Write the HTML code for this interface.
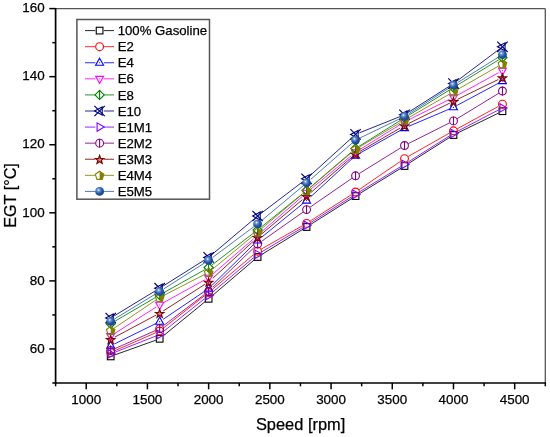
<!DOCTYPE html><html><head><meta charset="utf-8"><style>html,body{margin:0;padding:0;background:#fff;}svg{display:block;filter:blur(0.3px);}text{font-family:"Liberation Sans",Arial,sans-serif;fill:#000;stroke:#000;stroke-width:0.25px;}</style></head><body>
<svg width="550" height="437" viewBox="0 0 550 437">
<defs><radialGradient id="sph" cx="0.38" cy="0.35" r="0.7"><stop offset="0" stop-color="#f4f8ff"/><stop offset="0.22" stop-color="#6f97d0"/><stop offset="0.55" stop-color="#2858a8"/><stop offset="1" stop-color="#173c80"/></radialGradient></defs>
<rect width="550" height="437" fill="#fff"/>
<polyline points="110.69,356.4 159.66,338.8 208.63,298.8 257.6,257 306.57,227 355.54,196.1 404.51,166 453.48,135 502.45,111.2" fill="none" stroke="#000000" stroke-width="0.85"/>
<polyline points="110.69,352.5 159.66,331 208.63,292.5 257.6,251.2 306.57,223.4 355.54,192 404.51,158.6 453.48,130.8 502.45,104.2" fill="none" stroke="#FF0000" stroke-width="0.85"/>
<polyline points="110.69,345.8 159.66,321.7 208.63,288.6 257.6,240.5 306.57,200.6 355.54,155.6 404.51,128.1 453.48,107.3 502.45,81.1" fill="none" stroke="#0000FF" stroke-width="0.85"/>
<polyline points="110.69,336 159.66,304.8 208.63,277.7 257.6,235.3 306.57,192.7 355.54,152.2 404.51,121.9 453.48,97.4 502.45,70.6" fill="none" stroke="#FF00FF" stroke-width="0.85"/>
<polyline points="110.69,323.7 159.66,295 208.63,267.5 257.6,230 306.57,190.5 355.54,148.5 404.51,117.9 453.48,87.5 502.45,57.5" fill="none" stroke="#008000" stroke-width="0.85"/>
<polyline points="110.69,318 159.66,288.2 208.63,257.4 257.6,216 306.57,178.8 355.54,134.4 404.51,114.8 453.48,83.6 502.45,46.8" fill="none" stroke="#000080" stroke-width="0.85"/>
<polyline points="110.69,353.9 159.66,334.5 208.63,295.5 257.6,254.3 306.57,225.2 355.54,194.3 404.51,164.3 453.48,133.4 502.45,107.9" fill="none" stroke="#8000FF" stroke-width="0.85"/>
<polyline points="110.69,350.5 159.66,328.6 208.63,291.3 257.6,244.1 306.57,209.6 355.54,175.8 404.51,145.5 453.48,120.9 502.45,91" fill="none" stroke="#800080" stroke-width="0.85"/>
<polyline points="110.69,339.3 159.66,313.2 208.63,282 257.6,237.4 306.57,196.2 355.54,154 404.51,125.5 453.48,101.3 502.45,77.5" fill="none" stroke="#800000" stroke-width="0.85"/>
<polyline points="110.69,330.5 159.66,297.5 208.63,272.4 257.6,232.1 306.57,190.6 355.54,149.3 404.51,120.1 453.48,91.8 502.45,63.8" fill="none" stroke="#808000" stroke-width="0.85"/>
<polyline points="110.69,321.3 159.66,291.5 208.63,260.4 257.6,223.9 306.57,183 355.54,140.1 404.51,116.5 453.48,85.2 502.45,54.6" fill="none" stroke="#2F63AE" stroke-width="0.85"/>
<circle cx="110.69" cy="356.4" r="4.3" fill="#fff"/>
<circle cx="159.66" cy="338.8" r="4.3" fill="#fff"/>
<circle cx="208.63" cy="298.8" r="4.3" fill="#fff"/>
<circle cx="257.6" cy="257" r="4.3" fill="#fff"/>
<circle cx="306.57" cy="227" r="4.3" fill="#fff"/>
<circle cx="355.54" cy="196.1" r="4.3" fill="#fff"/>
<circle cx="404.51" cy="166" r="4.3" fill="#fff"/>
<circle cx="453.48" cy="135" r="4.3" fill="#fff"/>
<circle cx="502.45" cy="111.2" r="4.3" fill="#fff"/>
<circle cx="110.69" cy="352.5" r="4.3" fill="#fff"/>
<circle cx="159.66" cy="331" r="4.3" fill="#fff"/>
<circle cx="208.63" cy="292.5" r="4.3" fill="#fff"/>
<circle cx="257.6" cy="251.2" r="4.3" fill="#fff"/>
<circle cx="306.57" cy="223.4" r="4.3" fill="#fff"/>
<circle cx="355.54" cy="192" r="4.3" fill="#fff"/>
<circle cx="404.51" cy="158.6" r="4.3" fill="#fff"/>
<circle cx="453.48" cy="130.8" r="4.3" fill="#fff"/>
<circle cx="502.45" cy="104.2" r="4.3" fill="#fff"/>
<circle cx="110.69" cy="345.8" r="4.3" fill="#fff"/>
<circle cx="159.66" cy="321.7" r="4.3" fill="#fff"/>
<circle cx="208.63" cy="288.6" r="4.3" fill="#fff"/>
<circle cx="257.6" cy="240.5" r="4.3" fill="#fff"/>
<circle cx="306.57" cy="200.6" r="4.3" fill="#fff"/>
<circle cx="355.54" cy="155.6" r="4.3" fill="#fff"/>
<circle cx="404.51" cy="128.1" r="4.3" fill="#fff"/>
<circle cx="453.48" cy="107.3" r="4.3" fill="#fff"/>
<circle cx="502.45" cy="81.1" r="4.3" fill="#fff"/>
<circle cx="110.69" cy="336" r="4.3" fill="#fff"/>
<circle cx="159.66" cy="304.8" r="4.3" fill="#fff"/>
<circle cx="208.63" cy="277.7" r="4.3" fill="#fff"/>
<circle cx="257.6" cy="235.3" r="4.3" fill="#fff"/>
<circle cx="306.57" cy="192.7" r="4.3" fill="#fff"/>
<circle cx="355.54" cy="152.2" r="4.3" fill="#fff"/>
<circle cx="404.51" cy="121.9" r="4.3" fill="#fff"/>
<circle cx="453.48" cy="97.4" r="4.3" fill="#fff"/>
<circle cx="502.45" cy="70.6" r="4.3" fill="#fff"/>
<circle cx="110.69" cy="323.7" r="4.3" fill="#fff"/>
<circle cx="159.66" cy="295" r="4.3" fill="#fff"/>
<circle cx="208.63" cy="267.5" r="4.3" fill="#fff"/>
<circle cx="257.6" cy="230" r="4.3" fill="#fff"/>
<circle cx="306.57" cy="190.5" r="4.3" fill="#fff"/>
<circle cx="355.54" cy="148.5" r="4.3" fill="#fff"/>
<circle cx="404.51" cy="117.9" r="4.3" fill="#fff"/>
<circle cx="453.48" cy="87.5" r="4.3" fill="#fff"/>
<circle cx="502.45" cy="57.5" r="4.3" fill="#fff"/>
<circle cx="110.69" cy="318" r="4.3" fill="#fff"/>
<circle cx="159.66" cy="288.2" r="4.3" fill="#fff"/>
<circle cx="208.63" cy="257.4" r="4.3" fill="#fff"/>
<circle cx="257.6" cy="216" r="4.3" fill="#fff"/>
<circle cx="306.57" cy="178.8" r="4.3" fill="#fff"/>
<circle cx="355.54" cy="134.4" r="4.3" fill="#fff"/>
<circle cx="404.51" cy="114.8" r="4.3" fill="#fff"/>
<circle cx="453.48" cy="83.6" r="4.3" fill="#fff"/>
<circle cx="502.45" cy="46.8" r="4.3" fill="#fff"/>
<circle cx="110.69" cy="353.9" r="4.3" fill="#fff"/>
<circle cx="159.66" cy="334.5" r="4.3" fill="#fff"/>
<circle cx="208.63" cy="295.5" r="4.3" fill="#fff"/>
<circle cx="257.6" cy="254.3" r="4.3" fill="#fff"/>
<circle cx="306.57" cy="225.2" r="4.3" fill="#fff"/>
<circle cx="355.54" cy="194.3" r="4.3" fill="#fff"/>
<circle cx="404.51" cy="164.3" r="4.3" fill="#fff"/>
<circle cx="453.48" cy="133.4" r="4.3" fill="#fff"/>
<circle cx="502.45" cy="107.9" r="4.3" fill="#fff"/>
<circle cx="110.69" cy="350.5" r="4.3" fill="#fff"/>
<circle cx="159.66" cy="328.6" r="4.3" fill="#fff"/>
<circle cx="208.63" cy="291.3" r="4.3" fill="#fff"/>
<circle cx="257.6" cy="244.1" r="4.3" fill="#fff"/>
<circle cx="306.57" cy="209.6" r="4.3" fill="#fff"/>
<circle cx="355.54" cy="175.8" r="4.3" fill="#fff"/>
<circle cx="404.51" cy="145.5" r="4.3" fill="#fff"/>
<circle cx="453.48" cy="120.9" r="4.3" fill="#fff"/>
<circle cx="502.45" cy="91" r="4.3" fill="#fff"/>
<circle cx="110.69" cy="339.3" r="4.3" fill="#fff"/>
<circle cx="159.66" cy="313.2" r="4.3" fill="#fff"/>
<circle cx="208.63" cy="282" r="4.3" fill="#fff"/>
<circle cx="257.6" cy="237.4" r="4.3" fill="#fff"/>
<circle cx="306.57" cy="196.2" r="4.3" fill="#fff"/>
<circle cx="355.54" cy="154" r="4.3" fill="#fff"/>
<circle cx="404.51" cy="125.5" r="4.3" fill="#fff"/>
<circle cx="453.48" cy="101.3" r="4.3" fill="#fff"/>
<circle cx="502.45" cy="77.5" r="4.3" fill="#fff"/>
<circle cx="110.69" cy="330.5" r="4.3" fill="#fff"/>
<circle cx="159.66" cy="297.5" r="4.3" fill="#fff"/>
<circle cx="208.63" cy="272.4" r="4.3" fill="#fff"/>
<circle cx="257.6" cy="232.1" r="4.3" fill="#fff"/>
<circle cx="306.57" cy="190.6" r="4.3" fill="#fff"/>
<circle cx="355.54" cy="149.3" r="4.3" fill="#fff"/>
<circle cx="404.51" cy="120.1" r="4.3" fill="#fff"/>
<circle cx="453.48" cy="91.8" r="4.3" fill="#fff"/>
<circle cx="502.45" cy="63.8" r="4.3" fill="#fff"/>
<circle cx="110.69" cy="321.3" r="4.3" fill="#fff"/>
<circle cx="159.66" cy="291.5" r="4.3" fill="#fff"/>
<circle cx="208.63" cy="260.4" r="4.3" fill="#fff"/>
<circle cx="257.6" cy="223.9" r="4.3" fill="#fff"/>
<circle cx="306.57" cy="183" r="4.3" fill="#fff"/>
<circle cx="355.54" cy="140.1" r="4.3" fill="#fff"/>
<circle cx="404.51" cy="116.5" r="4.3" fill="#fff"/>
<circle cx="453.48" cy="85.2" r="4.3" fill="#fff"/>
<circle cx="502.45" cy="54.6" r="4.3" fill="#fff"/>
<rect x="107.34" y="353.05" width="6.7" height="6.7" fill="none" stroke="#000000" stroke-width="1.1"/>
<rect x="156.31" y="335.45" width="6.7" height="6.7" fill="none" stroke="#000000" stroke-width="1.1"/>
<rect x="205.28" y="295.45" width="6.7" height="6.7" fill="none" stroke="#000000" stroke-width="1.1"/>
<rect x="254.25" y="253.65" width="6.7" height="6.7" fill="none" stroke="#000000" stroke-width="1.1"/>
<rect x="303.22" y="223.65" width="6.7" height="6.7" fill="none" stroke="#000000" stroke-width="1.1"/>
<rect x="352.19" y="192.75" width="6.7" height="6.7" fill="none" stroke="#000000" stroke-width="1.1"/>
<rect x="401.16" y="162.65" width="6.7" height="6.7" fill="none" stroke="#000000" stroke-width="1.1"/>
<rect x="450.13" y="131.65" width="6.7" height="6.7" fill="none" stroke="#000000" stroke-width="1.1"/>
<rect x="499.1" y="107.85" width="6.7" height="6.7" fill="none" stroke="#000000" stroke-width="1.1"/>
<circle cx="110.69" cy="352.5" r="3.9" fill="none" stroke="#FF0000" stroke-width="1.1"/>
<circle cx="159.66" cy="331" r="3.9" fill="none" stroke="#FF0000" stroke-width="1.1"/>
<circle cx="208.63" cy="292.5" r="3.9" fill="none" stroke="#FF0000" stroke-width="1.1"/>
<circle cx="257.6" cy="251.2" r="3.9" fill="none" stroke="#FF0000" stroke-width="1.1"/>
<circle cx="306.57" cy="223.4" r="3.9" fill="none" stroke="#FF0000" stroke-width="1.1"/>
<circle cx="355.54" cy="192" r="3.9" fill="none" stroke="#FF0000" stroke-width="1.1"/>
<circle cx="404.51" cy="158.6" r="3.9" fill="none" stroke="#FF0000" stroke-width="1.1"/>
<circle cx="453.48" cy="130.8" r="3.9" fill="none" stroke="#FF0000" stroke-width="1.1"/>
<circle cx="502.45" cy="104.2" r="3.9" fill="none" stroke="#FF0000" stroke-width="1.1"/>
<polygon points="110.69,341.2 114.69,348.3 106.69,348.3" fill="none" stroke="#0000FF" stroke-width="1.1"/><circle cx="110.69" cy="345.8" r="0.6" fill="#0000FF"/>
<polygon points="159.66,317.1 163.66,324.2 155.66,324.2" fill="none" stroke="#0000FF" stroke-width="1.1"/><circle cx="159.66" cy="321.7" r="0.6" fill="#0000FF"/>
<polygon points="208.63,284 212.63,291.1 204.63,291.1" fill="none" stroke="#0000FF" stroke-width="1.1"/><circle cx="208.63" cy="288.6" r="0.6" fill="#0000FF"/>
<polygon points="257.6,235.9 261.6,243 253.6,243" fill="none" stroke="#0000FF" stroke-width="1.1"/><circle cx="257.6" cy="240.5" r="0.6" fill="#0000FF"/>
<polygon points="306.57,196 310.57,203.1 302.57,203.1" fill="none" stroke="#0000FF" stroke-width="1.1"/><circle cx="306.57" cy="200.6" r="0.6" fill="#0000FF"/>
<polygon points="355.54,151 359.54,158.1 351.54,158.1" fill="none" stroke="#0000FF" stroke-width="1.1"/><circle cx="355.54" cy="155.6" r="0.6" fill="#0000FF"/>
<polygon points="404.51,123.5 408.51,130.6 400.51,130.6" fill="none" stroke="#0000FF" stroke-width="1.1"/><circle cx="404.51" cy="128.1" r="0.6" fill="#0000FF"/>
<polygon points="453.48,102.7 457.48,109.8 449.48,109.8" fill="none" stroke="#0000FF" stroke-width="1.1"/><circle cx="453.48" cy="107.3" r="0.6" fill="#0000FF"/>
<polygon points="502.45,76.5 506.45,83.6 498.45,83.6" fill="none" stroke="#0000FF" stroke-width="1.1"/><circle cx="502.45" cy="81.1" r="0.6" fill="#0000FF"/>
<polygon points="110.69,340.6 114.69,333.5 106.69,333.5" fill="none" stroke="#FF00FF" stroke-width="1.1"/><circle cx="110.69" cy="336" r="0.6" fill="#FF00FF"/>
<polygon points="159.66,309.4 163.66,302.3 155.66,302.3" fill="none" stroke="#FF00FF" stroke-width="1.1"/><circle cx="159.66" cy="304.8" r="0.6" fill="#FF00FF"/>
<polygon points="208.63,282.3 212.63,275.2 204.63,275.2" fill="none" stroke="#FF00FF" stroke-width="1.1"/><circle cx="208.63" cy="277.7" r="0.6" fill="#FF00FF"/>
<polygon points="257.6,239.9 261.6,232.8 253.6,232.8" fill="none" stroke="#FF00FF" stroke-width="1.1"/><circle cx="257.6" cy="235.3" r="0.6" fill="#FF00FF"/>
<polygon points="306.57,197.3 310.57,190.2 302.57,190.2" fill="none" stroke="#FF00FF" stroke-width="1.1"/><circle cx="306.57" cy="192.7" r="0.6" fill="#FF00FF"/>
<polygon points="355.54,156.8 359.54,149.7 351.54,149.7" fill="none" stroke="#FF00FF" stroke-width="1.1"/><circle cx="355.54" cy="152.2" r="0.6" fill="#FF00FF"/>
<polygon points="404.51,126.5 408.51,119.4 400.51,119.4" fill="none" stroke="#FF00FF" stroke-width="1.1"/><circle cx="404.51" cy="121.9" r="0.6" fill="#FF00FF"/>
<polygon points="453.48,102 457.48,94.9 449.48,94.9" fill="none" stroke="#FF00FF" stroke-width="1.1"/><circle cx="453.48" cy="97.4" r="0.6" fill="#FF00FF"/>
<polygon points="502.45,75.2 506.45,68.1 498.45,68.1" fill="none" stroke="#FF00FF" stroke-width="1.1"/><circle cx="502.45" cy="70.6" r="0.6" fill="#FF00FF"/>
<polygon points="110.69,319.1 115.29,323.7 110.69,328.3 106.09,323.7" fill="none" stroke="#008000" stroke-width="1.1"/><line x1="110.69" y1="319.1" x2="110.69" y2="328.3" stroke="#008000" stroke-width="1.1"/>
<polygon points="159.66,290.4 164.26,295 159.66,299.6 155.06,295" fill="none" stroke="#008000" stroke-width="1.1"/><line x1="159.66" y1="290.4" x2="159.66" y2="299.6" stroke="#008000" stroke-width="1.1"/>
<polygon points="208.63,262.9 213.23,267.5 208.63,272.1 204.03,267.5" fill="none" stroke="#008000" stroke-width="1.1"/><line x1="208.63" y1="262.9" x2="208.63" y2="272.1" stroke="#008000" stroke-width="1.1"/>
<polygon points="257.6,225.4 262.2,230 257.6,234.6 253,230" fill="none" stroke="#008000" stroke-width="1.1"/><line x1="257.6" y1="225.4" x2="257.6" y2="234.6" stroke="#008000" stroke-width="1.1"/>
<polygon points="306.57,185.9 311.17,190.5 306.57,195.1 301.97,190.5" fill="none" stroke="#008000" stroke-width="1.1"/><line x1="306.57" y1="185.9" x2="306.57" y2="195.1" stroke="#008000" stroke-width="1.1"/>
<polygon points="355.54,143.9 360.14,148.5 355.54,153.1 350.94,148.5" fill="none" stroke="#008000" stroke-width="1.1"/><line x1="355.54" y1="143.9" x2="355.54" y2="153.1" stroke="#008000" stroke-width="1.1"/>
<polygon points="404.51,113.3 409.11,117.9 404.51,122.5 399.91,117.9" fill="none" stroke="#008000" stroke-width="1.1"/><line x1="404.51" y1="113.3" x2="404.51" y2="122.5" stroke="#008000" stroke-width="1.1"/>
<polygon points="453.48,82.9 458.08,87.5 453.48,92.1 448.88,87.5" fill="none" stroke="#008000" stroke-width="1.1"/><line x1="453.48" y1="82.9" x2="453.48" y2="92.1" stroke="#008000" stroke-width="1.1"/>
<polygon points="502.45,52.9 507.05,57.5 502.45,62.1 497.85,57.5" fill="none" stroke="#008000" stroke-width="1.1"/><line x1="502.45" y1="52.9" x2="502.45" y2="62.1" stroke="#008000" stroke-width="1.1"/>
<path d="M105.49 312.8L115.89 323.2M115.89 312.8L105.49 323.2" stroke="#000080" stroke-width="1.2" fill="none"/><polygon points="105.69,318 113.29,314 113.29,322" fill="none" stroke="#000080" stroke-width="1.1"/>
<path d="M154.46 283L164.86 293.4M164.86 283L154.46 293.4" stroke="#000080" stroke-width="1.2" fill="none"/><polygon points="154.66,288.2 162.26,284.2 162.26,292.2" fill="none" stroke="#000080" stroke-width="1.1"/>
<path d="M203.43 252.2L213.83 262.6M213.83 252.2L203.43 262.6" stroke="#000080" stroke-width="1.2" fill="none"/><polygon points="203.63,257.4 211.23,253.4 211.23,261.4" fill="none" stroke="#000080" stroke-width="1.1"/>
<path d="M252.4 210.8L262.8 221.2M262.8 210.8L252.4 221.2" stroke="#000080" stroke-width="1.2" fill="none"/><polygon points="252.6,216 260.2,212 260.2,220" fill="none" stroke="#000080" stroke-width="1.1"/>
<path d="M301.37 173.6L311.77 184M311.77 173.6L301.37 184" stroke="#000080" stroke-width="1.2" fill="none"/><polygon points="301.57,178.8 309.17,174.8 309.17,182.8" fill="none" stroke="#000080" stroke-width="1.1"/>
<path d="M350.34 129.2L360.74 139.6M360.74 129.2L350.34 139.6" stroke="#000080" stroke-width="1.2" fill="none"/><polygon points="350.54,134.4 358.14,130.4 358.14,138.4" fill="none" stroke="#000080" stroke-width="1.1"/>
<path d="M399.31 109.6L409.71 120M409.71 109.6L399.31 120" stroke="#000080" stroke-width="1.2" fill="none"/><polygon points="399.51,114.8 407.11,110.8 407.11,118.8" fill="none" stroke="#000080" stroke-width="1.1"/>
<path d="M448.28 78.4L458.68 88.8M458.68 78.4L448.28 88.8" stroke="#000080" stroke-width="1.2" fill="none"/><polygon points="448.48,83.6 456.08,79.6 456.08,87.6" fill="none" stroke="#000080" stroke-width="1.1"/>
<path d="M497.25 41.6L507.65 52M507.65 41.6L497.25 52" stroke="#000080" stroke-width="1.2" fill="none"/><polygon points="497.45,46.8 505.05,42.8 505.05,50.8" fill="none" stroke="#000080" stroke-width="1.1"/>
<polygon points="115.29,353.9 108.19,349.7 108.19,358.1" fill="none" stroke="#8000FF" stroke-width="1.1"/>
<polygon points="164.26,334.5 157.16,330.3 157.16,338.7" fill="none" stroke="#8000FF" stroke-width="1.1"/>
<polygon points="213.23,295.5 206.13,291.3 206.13,299.7" fill="none" stroke="#8000FF" stroke-width="1.1"/>
<polygon points="262.2,254.3 255.1,250.1 255.1,258.5" fill="none" stroke="#8000FF" stroke-width="1.1"/>
<polygon points="311.17,225.2 304.07,221 304.07,229.4" fill="none" stroke="#8000FF" stroke-width="1.1"/>
<polygon points="360.14,194.3 353.04,190.1 353.04,198.5" fill="none" stroke="#8000FF" stroke-width="1.1"/>
<polygon points="409.11,164.3 402.01,160.1 402.01,168.5" fill="none" stroke="#8000FF" stroke-width="1.1"/>
<polygon points="458.08,133.4 450.98,129.2 450.98,137.6" fill="none" stroke="#8000FF" stroke-width="1.1"/>
<polygon points="507.05,107.9 499.95,103.7 499.95,112.1" fill="none" stroke="#8000FF" stroke-width="1.1"/>
<circle cx="110.69" cy="350.5" r="3.9" fill="none" stroke="#800080" stroke-width="1.1"/><line x1="110.69" y1="346.1" x2="110.69" y2="354.9" stroke="#800080" stroke-width="1.1"/>
<circle cx="159.66" cy="328.6" r="3.9" fill="none" stroke="#800080" stroke-width="1.1"/><line x1="159.66" y1="324.2" x2="159.66" y2="333" stroke="#800080" stroke-width="1.1"/>
<circle cx="208.63" cy="291.3" r="3.9" fill="none" stroke="#800080" stroke-width="1.1"/><line x1="208.63" y1="286.9" x2="208.63" y2="295.7" stroke="#800080" stroke-width="1.1"/>
<circle cx="257.6" cy="244.1" r="3.9" fill="none" stroke="#800080" stroke-width="1.1"/><line x1="257.6" y1="239.7" x2="257.6" y2="248.5" stroke="#800080" stroke-width="1.1"/>
<circle cx="306.57" cy="209.6" r="3.9" fill="none" stroke="#800080" stroke-width="1.1"/><line x1="306.57" y1="205.2" x2="306.57" y2="214" stroke="#800080" stroke-width="1.1"/>
<circle cx="355.54" cy="175.8" r="3.9" fill="none" stroke="#800080" stroke-width="1.1"/><line x1="355.54" y1="171.4" x2="355.54" y2="180.2" stroke="#800080" stroke-width="1.1"/>
<circle cx="404.51" cy="145.5" r="3.9" fill="none" stroke="#800080" stroke-width="1.1"/><line x1="404.51" y1="141.1" x2="404.51" y2="149.9" stroke="#800080" stroke-width="1.1"/>
<circle cx="453.48" cy="120.9" r="3.9" fill="none" stroke="#800080" stroke-width="1.1"/><line x1="453.48" y1="116.5" x2="453.48" y2="125.3" stroke="#800080" stroke-width="1.1"/>
<circle cx="502.45" cy="91" r="3.9" fill="none" stroke="#800080" stroke-width="1.1"/><line x1="502.45" y1="86.6" x2="502.45" y2="95.4" stroke="#800080" stroke-width="1.1"/>
<polygon points="110.69,335.5 111.75,338.44 114.88,338.54 112.4,340.46 113.28,343.46 110.69,341.7 108.1,343.46 108.98,340.46 106.51,338.54 109.63,338.44" fill="#800000" fill-opacity="0.45" stroke="#800000" stroke-width="1.2" stroke-linejoin="miter"/>
<polygon points="159.66,309.4 160.72,312.34 163.85,312.44 161.37,314.36 162.25,317.36 159.66,315.6 157.07,317.36 157.95,314.36 155.48,312.44 158.6,312.34" fill="#800000" fill-opacity="0.45" stroke="#800000" stroke-width="1.2" stroke-linejoin="miter"/>
<polygon points="208.63,278.2 209.69,281.14 212.82,281.24 210.34,283.16 211.22,286.16 208.63,284.4 206.04,286.16 206.92,283.16 204.45,281.24 207.57,281.14" fill="#800000" fill-opacity="0.45" stroke="#800000" stroke-width="1.2" stroke-linejoin="miter"/>
<polygon points="257.6,233.6 258.66,236.54 261.79,236.64 259.31,238.56 260.19,241.56 257.6,239.8 255.01,241.56 255.89,238.56 253.42,236.64 256.54,236.54" fill="#800000" fill-opacity="0.45" stroke="#800000" stroke-width="1.2" stroke-linejoin="miter"/>
<polygon points="306.57,192.4 307.63,195.34 310.76,195.44 308.28,197.36 309.16,200.36 306.57,198.6 303.98,200.36 304.86,197.36 302.39,195.44 305.51,195.34" fill="#800000" fill-opacity="0.45" stroke="#800000" stroke-width="1.2" stroke-linejoin="miter"/>
<polygon points="355.54,150.2 356.6,153.14 359.73,153.24 357.25,155.16 358.13,158.16 355.54,156.4 352.95,158.16 353.83,155.16 351.36,153.24 354.48,153.14" fill="#800000" fill-opacity="0.45" stroke="#800000" stroke-width="1.2" stroke-linejoin="miter"/>
<polygon points="404.51,121.7 405.57,124.64 408.7,124.74 406.22,126.66 407.1,129.66 404.51,127.9 401.92,129.66 402.8,126.66 400.33,124.74 403.45,124.64" fill="#800000" fill-opacity="0.45" stroke="#800000" stroke-width="1.2" stroke-linejoin="miter"/>
<polygon points="453.48,97.5 454.54,100.44 457.67,100.54 455.19,102.46 456.07,105.46 453.48,103.7 450.89,105.46 451.77,102.46 449.3,100.54 452.42,100.44" fill="#800000" fill-opacity="0.45" stroke="#800000" stroke-width="1.2" stroke-linejoin="miter"/>
<polygon points="502.45,73.7 503.51,76.64 506.64,76.74 504.16,78.66 505.04,81.66 502.45,79.9 499.86,81.66 500.74,78.66 498.27,76.74 501.39,76.64" fill="#800000" fill-opacity="0.45" stroke="#800000" stroke-width="1.2" stroke-linejoin="miter"/>
<polygon points="110.69,326.4 114.97,329.51 113.34,334.54 110.69,334.54" fill="#808000"/><polygon points="110.69,326.4 114.97,329.51 113.34,334.54 108.05,334.54 106.41,329.51" fill="none" stroke="#808000" stroke-width="1.1"/>
<polygon points="159.66,293.4 163.94,296.51 162.31,301.54 159.66,301.54" fill="#808000"/><polygon points="159.66,293.4 163.94,296.51 162.31,301.54 157.02,301.54 155.38,296.51" fill="none" stroke="#808000" stroke-width="1.1"/>
<polygon points="208.63,268.3 212.91,271.41 211.28,276.44 208.63,276.44" fill="#808000"/><polygon points="208.63,268.3 212.91,271.41 211.28,276.44 205.99,276.44 204.35,271.41" fill="none" stroke="#808000" stroke-width="1.1"/>
<polygon points="257.6,228 261.88,231.11 260.25,236.14 257.6,236.14" fill="#808000"/><polygon points="257.6,228 261.88,231.11 260.25,236.14 254.96,236.14 253.32,231.11" fill="none" stroke="#808000" stroke-width="1.1"/>
<polygon points="306.57,186.5 310.85,189.61 309.22,194.64 306.57,194.64" fill="#808000"/><polygon points="306.57,186.5 310.85,189.61 309.22,194.64 303.93,194.64 302.29,189.61" fill="none" stroke="#808000" stroke-width="1.1"/>
<polygon points="355.54,145.2 359.82,148.31 358.19,153.34 355.54,153.34" fill="#808000"/><polygon points="355.54,145.2 359.82,148.31 358.19,153.34 352.9,153.34 351.26,148.31" fill="none" stroke="#808000" stroke-width="1.1"/>
<polygon points="404.51,116 408.79,119.11 407.16,124.14 404.51,124.14" fill="#808000"/><polygon points="404.51,116 408.79,119.11 407.16,124.14 401.87,124.14 400.23,119.11" fill="none" stroke="#808000" stroke-width="1.1"/>
<polygon points="453.48,87.7 457.76,90.81 456.13,95.84 453.48,95.84" fill="#808000"/><polygon points="453.48,87.7 457.76,90.81 456.13,95.84 450.84,95.84 449.2,90.81" fill="none" stroke="#808000" stroke-width="1.1"/>
<polygon points="502.45,59.7 506.73,62.81 505.1,67.84 502.45,67.84" fill="#808000"/><polygon points="502.45,59.7 506.73,62.81 505.1,67.84 499.81,67.84 498.17,62.81" fill="none" stroke="#808000" stroke-width="1.1"/>
<circle cx="110.69" cy="321.3" r="4.4" fill="url(#sph)"/>
<circle cx="159.66" cy="291.5" r="4.4" fill="url(#sph)"/>
<circle cx="208.63" cy="260.4" r="4.4" fill="url(#sph)"/>
<circle cx="257.6" cy="223.9" r="4.4" fill="url(#sph)"/>
<circle cx="306.57" cy="183" r="4.4" fill="url(#sph)"/>
<circle cx="355.54" cy="140.1" r="4.4" fill="url(#sph)"/>
<circle cx="404.51" cy="116.5" r="4.4" fill="url(#sph)"/>
<circle cx="453.48" cy="85.2" r="4.4" fill="url(#sph)"/>
<circle cx="502.45" cy="54.6" r="4.4" fill="url(#sph)"/>
<line x1="55.6" y1="8.6" x2="545.3" y2="8.6" stroke="#555" stroke-width="1.3"/>
<line x1="545.3" y1="8.6" x2="545.3" y2="383" stroke="#555" stroke-width="1.3"/>
<line x1="55.6" y1="7.9" x2="55.6" y2="383.8" stroke="#000" stroke-width="1.7"/>
<line x1="54.8" y1="383" x2="546" y2="383" stroke="#000" stroke-width="1.7"/>
<line x1="52.3" y1="383" x2="55.6" y2="383" stroke="#000" stroke-width="1.5"/>
<line x1="49.3" y1="348.96" x2="55.6" y2="348.96" stroke="#000" stroke-width="1.5"/>
<text x="44.6" y="352.66" font-size="13.4" text-anchor="end">60</text>
<line x1="52.3" y1="314.93" x2="55.6" y2="314.93" stroke="#000" stroke-width="1.5"/>
<line x1="49.3" y1="280.89" x2="55.6" y2="280.89" stroke="#000" stroke-width="1.5"/>
<text x="44.6" y="284.59" font-size="13.4" text-anchor="end">80</text>
<line x1="52.3" y1="246.85" x2="55.6" y2="246.85" stroke="#000" stroke-width="1.5"/>
<line x1="49.3" y1="212.82" x2="55.6" y2="212.82" stroke="#000" stroke-width="1.5"/>
<text x="44.6" y="216.52" font-size="13.4" text-anchor="end">100</text>
<line x1="52.3" y1="178.78" x2="55.6" y2="178.78" stroke="#000" stroke-width="1.5"/>
<line x1="49.3" y1="144.75" x2="55.6" y2="144.75" stroke="#000" stroke-width="1.5"/>
<text x="44.6" y="148.45" font-size="13.4" text-anchor="end">120</text>
<line x1="52.3" y1="110.71" x2="55.6" y2="110.71" stroke="#000" stroke-width="1.5"/>
<line x1="49.3" y1="76.67" x2="55.6" y2="76.67" stroke="#000" stroke-width="1.5"/>
<text x="44.6" y="80.37" font-size="13.4" text-anchor="end">140</text>
<line x1="52.3" y1="42.64" x2="55.6" y2="42.64" stroke="#000" stroke-width="1.5"/>
<line x1="49.3" y1="8.6" x2="55.6" y2="8.6" stroke="#000" stroke-width="1.5"/>
<text x="44.6" y="12.3" font-size="13.4" text-anchor="end">160</text>
<line x1="55.6" y1="383" x2="55.6" y2="386.3" stroke="#000" stroke-width="1.5"/>
<line x1="86.21" y1="383" x2="86.21" y2="389.3" stroke="#000" stroke-width="1.5"/>
<text x="86.21" y="403.8" font-size="13.4" text-anchor="middle">1000</text>
<line x1="116.81" y1="383" x2="116.81" y2="386.3" stroke="#000" stroke-width="1.5"/>
<line x1="147.42" y1="383" x2="147.42" y2="389.3" stroke="#000" stroke-width="1.5"/>
<text x="147.42" y="403.8" font-size="13.4" text-anchor="middle">1500</text>
<line x1="178.02" y1="383" x2="178.02" y2="386.3" stroke="#000" stroke-width="1.5"/>
<line x1="208.63" y1="383" x2="208.63" y2="389.3" stroke="#000" stroke-width="1.5"/>
<text x="208.63" y="403.8" font-size="13.4" text-anchor="middle">2000</text>
<line x1="239.24" y1="383" x2="239.24" y2="386.3" stroke="#000" stroke-width="1.5"/>
<line x1="269.84" y1="383" x2="269.84" y2="389.3" stroke="#000" stroke-width="1.5"/>
<text x="269.84" y="403.8" font-size="13.4" text-anchor="middle">2500</text>
<line x1="300.45" y1="383" x2="300.45" y2="386.3" stroke="#000" stroke-width="1.5"/>
<line x1="331.06" y1="383" x2="331.06" y2="389.3" stroke="#000" stroke-width="1.5"/>
<text x="331.06" y="403.8" font-size="13.4" text-anchor="middle">3000</text>
<line x1="361.66" y1="383" x2="361.66" y2="386.3" stroke="#000" stroke-width="1.5"/>
<line x1="392.27" y1="383" x2="392.27" y2="389.3" stroke="#000" stroke-width="1.5"/>
<text x="392.27" y="403.8" font-size="13.4" text-anchor="middle">3500</text>
<line x1="422.87" y1="383" x2="422.87" y2="386.3" stroke="#000" stroke-width="1.5"/>
<line x1="453.48" y1="383" x2="453.48" y2="389.3" stroke="#000" stroke-width="1.5"/>
<text x="453.48" y="403.8" font-size="13.4" text-anchor="middle">4000</text>
<line x1="484.09" y1="383" x2="484.09" y2="386.3" stroke="#000" stroke-width="1.5"/>
<line x1="514.69" y1="383" x2="514.69" y2="389.3" stroke="#000" stroke-width="1.5"/>
<text x="514.69" y="403.8" font-size="13.4" text-anchor="middle">4500</text>
<line x1="545.3" y1="383" x2="545.3" y2="386.3" stroke="#000" stroke-width="1.5"/>
<text x="300.6" y="430.0" font-size="16.4" text-anchor="middle">Speed [rpm]</text>
<text transform="translate(16.0,195.5) rotate(-90)" font-size="16.2" text-anchor="middle">EGT [°C]</text>
<rect x="76.9" y="19.5" width="132.6" height="179.7" fill="#fff" stroke="#555" stroke-width="1.5"/>
<line x1="85" y1="30.6" x2="114" y2="30.6" stroke="#000000" stroke-width="0.85"/>
<circle cx="99.6" cy="30.6" r="4.3" fill="#fff"/>
<rect x="96.25" y="27.25" width="6.7" height="6.7" fill="none" stroke="#000000" stroke-width="1.1"/>
<text x="117.7" y="35.2" font-size="13.2">100% Gasoline</text>
<line x1="85" y1="46.68" x2="114" y2="46.68" stroke="#FF0000" stroke-width="0.85"/>
<circle cx="99.6" cy="46.68" r="4.3" fill="#fff"/>
<circle cx="99.6" cy="46.68" r="3.9" fill="none" stroke="#FF0000" stroke-width="1.1"/>
<text x="117.7" y="51.28" font-size="13.2">E2</text>
<line x1="85" y1="62.76" x2="114" y2="62.76" stroke="#0000FF" stroke-width="0.85"/>
<circle cx="99.6" cy="62.76" r="4.3" fill="#fff"/>
<polygon points="99.6,58.16 103.6,65.26 95.6,65.26" fill="none" stroke="#0000FF" stroke-width="1.1"/><circle cx="99.6" cy="62.76" r="0.6" fill="#0000FF"/>
<text x="117.7" y="67.36" font-size="13.2">E4</text>
<line x1="85" y1="78.84" x2="114" y2="78.84" stroke="#FF00FF" stroke-width="0.85"/>
<circle cx="99.6" cy="78.84" r="4.3" fill="#fff"/>
<polygon points="99.6,83.44 103.6,76.34 95.6,76.34" fill="none" stroke="#FF00FF" stroke-width="1.1"/><circle cx="99.6" cy="78.84" r="0.6" fill="#FF00FF"/>
<text x="117.7" y="83.44" font-size="13.2">E6</text>
<line x1="85" y1="94.92" x2="114" y2="94.92" stroke="#008000" stroke-width="0.85"/>
<circle cx="99.6" cy="94.92" r="4.3" fill="#fff"/>
<polygon points="99.6,90.32 104.2,94.92 99.6,99.52 95,94.92" fill="none" stroke="#008000" stroke-width="1.1"/><line x1="99.6" y1="90.32" x2="99.6" y2="99.52" stroke="#008000" stroke-width="1.1"/>
<text x="117.7" y="99.52" font-size="13.2">E8</text>
<line x1="85" y1="111" x2="114" y2="111" stroke="#000080" stroke-width="0.85"/>
<circle cx="99.6" cy="111" r="4.3" fill="#fff"/>
<path d="M94.4 105.8L104.8 116.2M104.8 105.8L94.4 116.2" stroke="#000080" stroke-width="1.2" fill="none"/><polygon points="94.6,111 102.2,107 102.2,115" fill="none" stroke="#000080" stroke-width="1.1"/>
<text x="117.7" y="115.6" font-size="13.2">E10</text>
<line x1="85" y1="127.08" x2="114" y2="127.08" stroke="#8000FF" stroke-width="0.85"/>
<circle cx="99.6" cy="127.08" r="4.3" fill="#fff"/>
<polygon points="104.2,127.08 97.1,122.88 97.1,131.28" fill="none" stroke="#8000FF" stroke-width="1.1"/>
<text x="117.7" y="131.68" font-size="13.2">E1M1</text>
<line x1="85" y1="143.16" x2="114" y2="143.16" stroke="#800080" stroke-width="0.85"/>
<circle cx="99.6" cy="143.16" r="4.3" fill="#fff"/>
<circle cx="99.6" cy="143.16" r="3.9" fill="none" stroke="#800080" stroke-width="1.1"/><line x1="99.6" y1="138.76" x2="99.6" y2="147.56" stroke="#800080" stroke-width="1.1"/>
<text x="117.7" y="147.76" font-size="13.2">E2M2</text>
<line x1="85" y1="159.24" x2="114" y2="159.24" stroke="#800000" stroke-width="0.85"/>
<circle cx="99.6" cy="159.24" r="4.3" fill="#fff"/>
<polygon points="99.6,155.44 100.66,158.38 103.78,158.48 101.31,160.4 102.19,163.4 99.6,161.64 97.01,163.4 97.89,160.4 95.42,158.48 98.54,158.38" fill="#800000" fill-opacity="0.45" stroke="#800000" stroke-width="1.2" stroke-linejoin="miter"/>
<text x="117.7" y="163.84" font-size="13.2">E3M3</text>
<line x1="85" y1="175.32" x2="114" y2="175.32" stroke="#808000" stroke-width="0.85"/>
<circle cx="99.6" cy="175.32" r="4.3" fill="#fff"/>
<polygon points="99.6,171.22 103.88,174.33 102.25,179.36 99.6,179.36" fill="#808000"/><polygon points="99.6,171.22 103.88,174.33 102.25,179.36 96.95,179.36 95.32,174.33" fill="none" stroke="#808000" stroke-width="1.1"/>
<text x="117.7" y="179.92" font-size="13.2">E4M4</text>
<line x1="85" y1="191.4" x2="114" y2="191.4" stroke="#2F63AE" stroke-width="0.85"/>
<circle cx="99.6" cy="191.4" r="4.3" fill="#fff"/>
<circle cx="99.6" cy="191.4" r="4.4" fill="url(#sph)"/>
<text x="117.7" y="196" font-size="13.2">E5M5</text>
</svg></body></html>
